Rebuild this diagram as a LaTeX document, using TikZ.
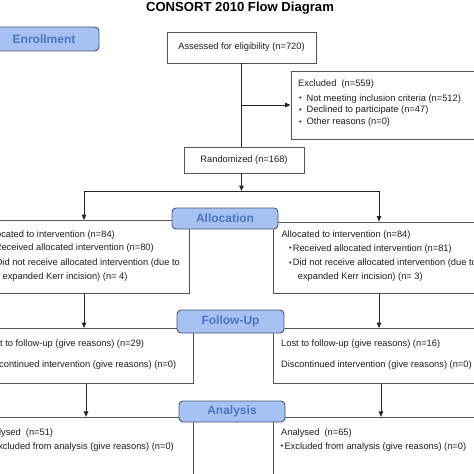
\documentclass[tikz,border=0pt]{standalone}
\usepackage{fontspec}
\setmainfont{Liberation Sans}
\usetikzlibrary{arrows.meta}
\definecolor{labfill}{RGB}{166,194,242}
\definecolor{labtext}{RGB}{78,116,186}
\definecolor{labdraw}{RGB}{72,86,118}
\definecolor{boxdraw}{RGB}{85,85,85}
\definecolor{txtcol}{RGB}{30,30,30}
\newcommand{\bul}[1]{{\fontsize{7.5}{7.5}\selectfont\raisebox{0.3pt}{•}}\hspace{#1}}
\begin{document}
\begin{tikzpicture}[x=1pt,y=-1pt,
  box/.style={draw=boxdraw, line width=0.9pt, inner sep=0pt, fill=white, text=txtcol, font=\fontsize{9.3}{11}\selectfont},
  lab/.style={draw=labdraw, line width=0.9pt, fill=labfill, rounded corners=4pt, text=labtext, font=\fontsize{12}{14}\selectfont\bfseries, inner sep=0pt},
  txt/.style={inner sep=0pt, text=txtcol, font=\fontsize{9.3}{11}\selectfont},
  conn/.style={draw=black!85, line width=1pt},
  arr/.style={conn, -{Triangle[length=5.5pt,width=4.5pt]}}
]
\useasboundingbox (0,0) rectangle (474,474);
\clip (0,0) rectangle (474,474);
\fill[white] (0,0) rectangle (474,474);

% title
\node[anchor=base, inner sep=0pt, font=\fontsize{13.1}{15}\selectfont\bfseries] (title) at (240,11.5) {CONSORT 2010 Flow Diagram};

% boxes
\node[box, minimum width=149pt, minimum height=31pt] (assess) at (241.5,47.5) {Assessed for eligibility (n=720)};
\node[box, minimum width=199pt, minimum height=68pt] (excl) at (390.5,105) {};
\node[box, minimum width=120pt, minimum height=26pt] (rand) at (244,160) {Randomized (n=168)};
\node[box, minimum width=212pt, minimum height=72.5pt] (allocL) at (83,256.75) {};
\node[box, minimum width=217pt, minimum height=71pt] (allocR) at (381.5,257.5) {};
\node[box, minimum width=217pt, minimum height=55pt] (fuL) at (84.5,356) {};
\node[box, minimum width=217pt, minimum height=55pt] (fuR) at (381.5,356) {};
\node[box, minimum width=217pt, minimum height=102.7pt] (anL) at (84.5,468.65) {};
\node[box, minimum width=217pt, minimum height=102.7pt] (anR) at (381.5,468.65) {};

% excluded texts
\node[txt, anchor=base west] (ex0) at (298,86.3) {Excluded~ (n=559)};
\node[txt, anchor=base west] (ex1) at (299,101) {\bul{4.8pt}Not meeting inclusion criteria (n=512)};
\node[txt, anchor=base west] (ex2) at (299,112.6) {\bul{4.8pt}Declined to participate (n=47)};
\node[txt, anchor=base west] (ex3) at (299,124.3) {\bul{4.8pt}Other reasons (n=0)};

% allocation texts
\node[txt, anchor=base east] (aL1) at (115,237) {Allocated to intervention (n=84)};
\node[txt, anchor=base east] (aL2) at (154,250.8) {\bul{1.2pt}Received allocated intervention (n=80)};
\node[txt, anchor=base east] (aL3) at (180,265.3) {\bul{1.2pt}Did not receive allocated intervention (due to};
\node[txt, anchor=base east] (aL4) at (127.7,279) {expanded Kerr incision) (n= 4)};
\node[txt, anchor=base west] (aR1) at (281.3,237.5) {Allocated to intervention (n=84)};
\node[txt, anchor=base west] (aR2) at (288.8,251) {\bul{1.2pt}Received allocated intervention (n=81)};
\node[txt, anchor=base west] (aR3) at (288.8,265.5) {\bul{1.2pt}Did not receive allocated intervention (due to};
\node[txt, anchor=base west] (aR4) at (297.7,279) {expanded Kerr incision) (n= 3)};

% follow-up texts
\node[txt, anchor=base east] (fL1) at (144.3,346.6) {Lost to follow-up (give reasons) (n=29)};
\node[txt, anchor=base east] (fL2) at (176.5,367.5) {Discontinued intervention (give reasons) (n=0)};
\node[txt, anchor=base west] (fR1) at (281,346.6) {Lost to follow-up (give reasons) (n=16)};
\node[txt, anchor=base west] (fR2) at (281,367.5) {Discontinued intervention (give reasons) (n=0)};

% analysis texts
\node[txt, anchor=base east] (nL1) at (53.3,435) {Analysed~ (n=51)};
\node[txt, anchor=base east] (nL2) at (174,449) {\bul{1.2pt}Excluded from analysis (give reasons) (n=0)};
\node[txt, anchor=base west] (nR1) at (281,435) {Analysed~ (n=65)};
\node[txt, anchor=base west] (nR2) at (280.5,449) {\bul{1.2pt}Excluded from analysis (give reasons) (n=0)};

% connectors
\draw[conn] (assess.south) -- (assess.south |- rand.north);
\coordinate (j1) at (241.5,105);
\draw[arr] (j1) -- (excl.west);
\coordinate (split) at (241.5,191);
\draw[arr] (split |- rand.south) -- (split);
\coordinate (sl) at (84,191);
\coordinate (sr) at (379,191);
\draw[conn] (sl) -- (sr);
\draw[arr] (sl) -- (sl |- allocL.north);
\draw[arr] (sr) -- (sr |- allocR.north);
\draw[arr] (sl |- allocL.south) -- (sl |- fuL.north);
\draw[arr] (sr |- allocR.south) -- (sr |- fuR.north);
\coordinate (al) at (86,0);
\coordinate (ar) at (381,0);
\draw[arr] (al |- fuL.south) -- (al |- anL.north);
\draw[arr] (ar |- fuR.south) -- (ar |- anR.north);

% phase labels
\node[lab, minimum width=110pt, minimum height=24pt] (enroll) at (44,39) {Enrollment};
\node[lab, minimum width=106pt, minimum height=21pt] (alloclab) at (225,218.5) {Allocation};
\node[lab, minimum width=107pt, minimum height=23pt] (fulab) at (230.5,321.5) {Follow-Up};
\node[lab, minimum width=106pt, minimum height=21pt] (anlab) at (232,411.5) {Analysis};
\end{tikzpicture}
\end{document}
